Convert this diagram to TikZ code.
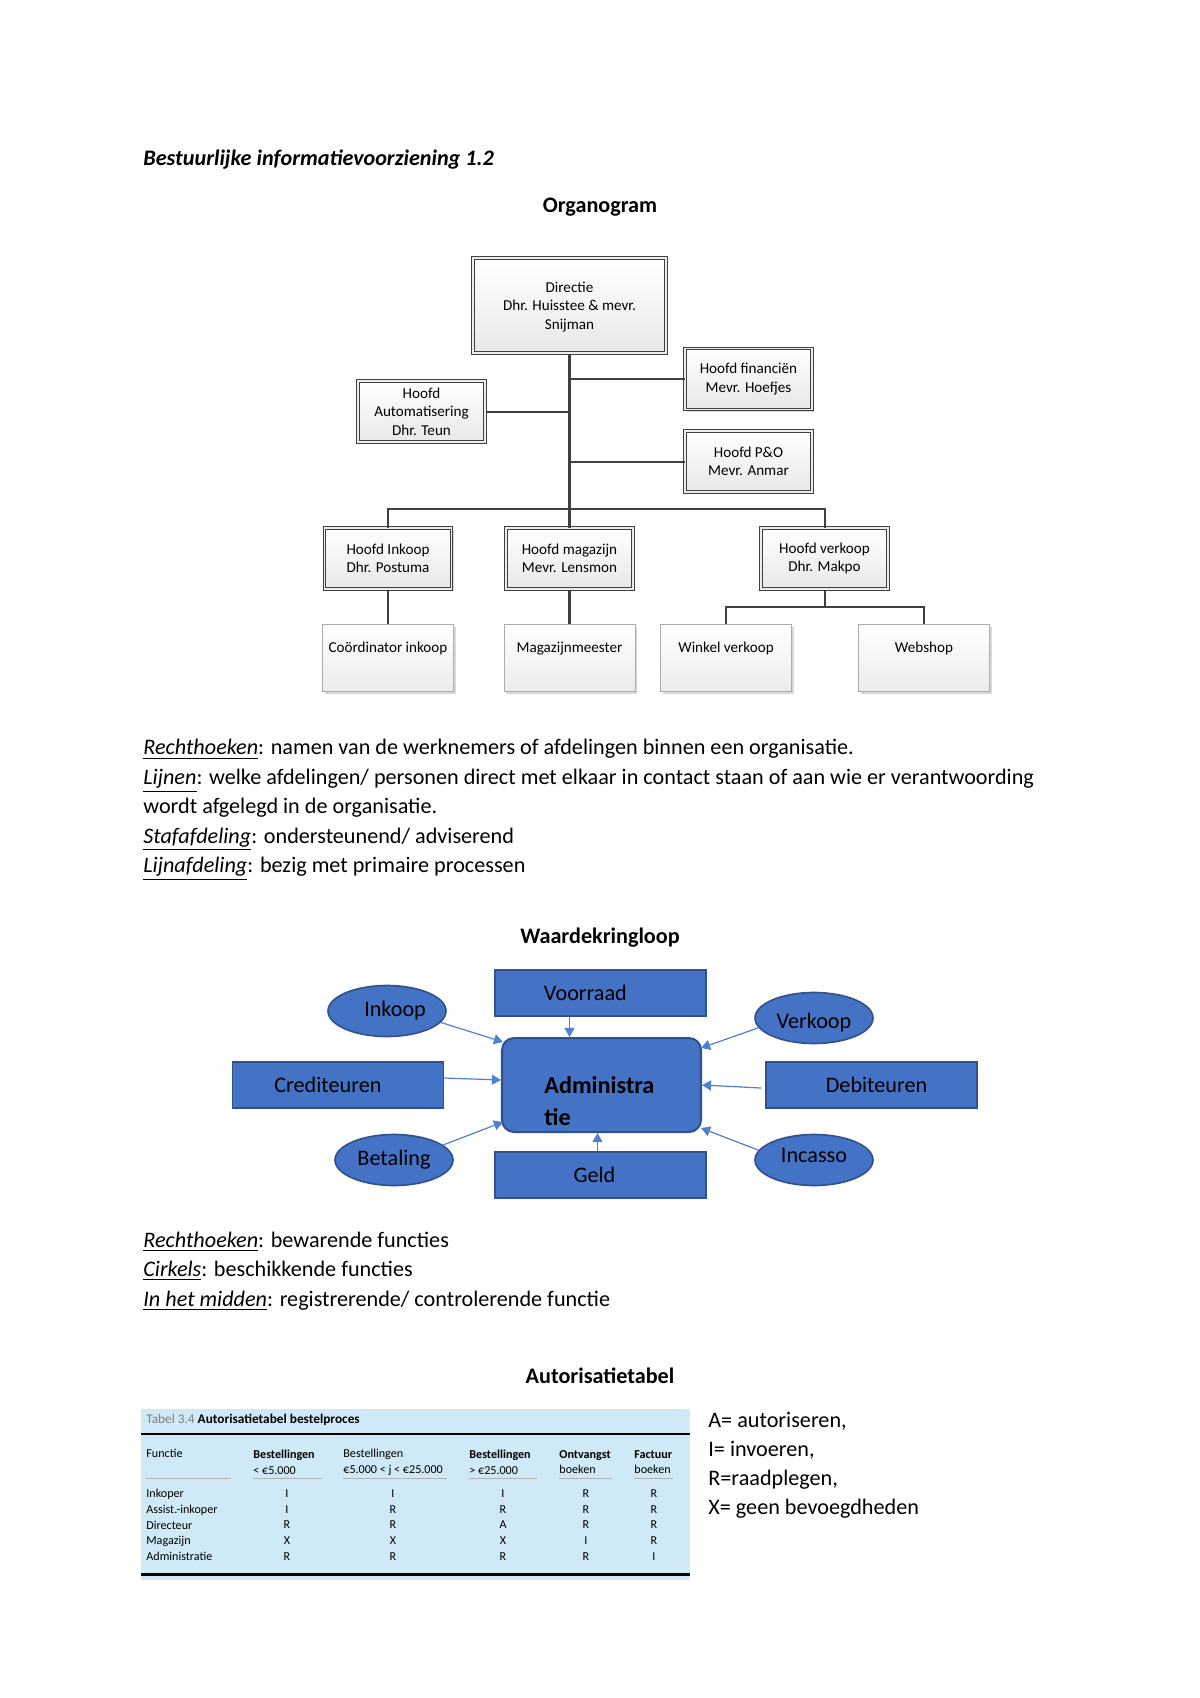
\documentclass[tikz,border=0pt]{standalone}
\usepackage{fontspec}
\setmainfont{Carlito}
\usepackage{tikz}
\usetikzlibrary{arrows.meta,shapes.geometric,shadows,calc}
\newdimen\pix \pix=0.49606pt
\definecolor{kringblauw}{HTML}{4472C4}
\definecolor{kringrand}{HTML}{2F528F}
\definecolor{pijlblauw}{HTML}{4F81D0}
\definecolor{tabelblauw}{HTML}{CFE9F7}
\definecolor{lijngrijs}{HTML}{404040}

\begin{document}
\begin{tikzpicture}[x=1\pix,y=-1\pix,>={Triangle[length=4.5pt,width=5pt]},
	every node/.style={font=\fontsize{11}{14.6}\selectfont,inner sep=0pt},
	kopje/.style={font=\fontsize{11}{14}\selectfont\bfseries},
	hoofd/.style={draw=lijngrijs,double=gray!15,double distance=0.9pt,line width=0.5pt,
		top color=white,bottom color=gray!18,align=center,
		drop shadow={shadow xshift=1.2pt,shadow yshift=-1.2pt,opacity=0.3},
		font=\fontsize{7.5}{9.2}\selectfont},
	kop/.style={hoofd,minimum width=127\pix,minimum height=61\pix},
	afd/.style={draw=gray!65,line width=0.5pt,top color=white,bottom color=gray!15,
		drop shadow={shadow xshift=1.2pt,shadow yshift=-1.2pt,opacity=0.3},
		minimum width=131\pix,minimum height=67\pix,text height=5.5pt,text depth=11pt,
		font=\fontsize{7.5}{9.2}\selectfont},
	tak/.style={draw=lijngrijs,line width=1pt},
	bewaar/.style={rectangle,draw=kringrand,line width=0.8pt,fill=kringblauw,
		minimum width=211\pix,minimum height=46\pix},
	beschik/.style={ellipse,draw=kringrand,line width=0.8pt,fill=kringblauw,
		minimum width=118\pix,minimum height=51\pix},
	midden/.style={rectangle,rounded corners=6pt,draw=kringrand,line width=1pt,fill=kringblauw,
		minimum width=199\pix,minimum height=94\pix},
	pijl/.style={->,draw=pijlblauw,line width=0.6pt},
	tabel/.style={font=\fontsize{6}{7.8}\selectfont},
	]
	\fill[white] (0,0) rectangle (1200,1698);
	%% koppen
	\node (titel) at (143,160) [anchor=west,font=\fontsize{11}{14}\selectfont\bfseries\itshape] {Bestuurlijke informatievoorziening 1.2};
	\node (organogram) at (600,207) [kopje] {Organogram};
	%% organogram
	\node (dir) at (569.5,305.5) [hoofd,minimum width=193\pix,minimum height=95\pix,text depth=-2pt] {Directie\\Dhr. Huisstee \& mevr.\\Snijman};
	\node (fin) at (748.5,379) [kop] {Hoofd financiën\\Mevr. Hoefjes};
	\node (aut) at (421.5,411.5) [kop] {Hoofd\\Automatisering\\Dhr. Teun};
	\node (po) at (748.5,461.5) [kop] {Hoofd P\&O\\Mevr. Anmar};
	\node (ink) at (388,558.5) [kop] {Hoofd Inkoop\\Dhr. Postuma};
	\node (mag) at (569.5,558.5) [kop] {Hoofd magazijn\\Mevr. Lensmon};
	\node (verk) at (824.5,558.5) [kop] {Hoofd verkoop\\Dhr. Makpo};
	\node (coord) at (388,658) [afd] {Coördinator inkoop};
	\node (mmeester) at (569.5,658) [afd] {Magazijnmeester};
	\node (winkel) at (726,658) [afd] {Winkel verkoop};
	\node (webshop) at (924,658) [afd] {Webshop};
	\coordinate (bus) at (569.5,509);
	\coordinate (vbus) at (824.5,607);

	\draw [tak] (dir) -- (mag);
	\draw [tak] (fin.west) -- (fin.west -| dir.south);
	\draw [tak] (aut.east) -- (aut.east -| dir.south);
	\draw [tak] (po.west) -- (po.west -| dir.south);
	\draw [tak] (ink.north) |- (bus) -| (verk.north);
	\draw [tak] (ink) -- (coord);
	\draw [tak] (mag) -- (mmeester);
	\draw [tak] (verk) -- (vbus);
	\draw [tak] (winkel.north) |- (vbus) -| (webshop.north);

	\node (uitleg1) at (143,810) [anchor=west,align=left] {\underline{\textit{Rechthoeken}}: namen van de werknemers of afdelingen binnen een organisatie.\\
		\underline{\textit{Lijnen}}: welke afdelingen/ personen direct met elkaar in contact staan of aan wie er verantwoording\\
		wordt afgelegd in de organisatie.\\
		\underline{\textit{Stafafdeling}}: ondersteunend/ adviserend\\
		\underline{\textit{Lijnafdeling}}: bezig met primaire processen};
	%% waardekringloop
	\node (waardekringloop) at (600,938) [kopje] {Waardekringloop};
	\node (voorraad) at (600.5,993) [bewaar] {Voorraad\hspace*{15pt}};
	\node (crediteuren) at (338,1085) [bewaar] {Crediteuren\hspace*{10pt}};
	\node (debiteuren) at (871.5,1085) [bewaar] {\hspace*{5pt}Debiteuren};
	\node (geld) at (600.5,1175) [bewaar] {Geld\hspace*{6pt}};
	\node (inkoop) at (387,1011) [beschik] {\hspace*{8pt}Inkoop};
	\node (verkoop) at (814,1018) [beschik,text height=13pt,text depth=2.3pt] {Verkoop};
	\node (betaling) at (394,1160) [beschik] {Betaling};
	\node (incasso) at (814,1160) [beschik,text height=7.2pt,text depth=4.4pt] {Incasso};
	\node (admin) at (601.5,1085) [midden] {};
	\node (admtekst) at (544,1101) [anchor=west,align=left,font=\fontsize{12}{15.9}\selectfont\bfseries] {Administra\\tie};

	\draw [pijl] (inkoop.-12) -- ([shift={(2,5)}]admin.north west);
	\draw [pijl] ($(voorraad.south)+(-31,0)$) -- ($(admin.north)+(-32,0)$);
	\draw [pijl] (verkoop.190) -- ([shift={(-1,11)}]admin.north east);
	\draw [pijl] ([shift={(0,-7)}]crediteuren.east) -- ([shift={(0,-5)}]admin.west);
	\draw [pijl] ([shift={(-4,3)}]debiteuren.west) -- (admin.east);
	\draw [pijl] (betaling.17) -- ([shift={(2,-11)}]admin.south west);
	\draw [pijl] (incasso.170) -- ([shift={(-1,-5)}]admin.south east);
	\draw [pijl] ($(geld.north)+(-3,0)$) -- ($(admin.south)+(-4,0)$);

	\node (uitleg2) at (143,1271) [anchor=west,align=left] {\underline{\textit{Rechthoeken}}: bewarende functies\\
		\underline{\textit{Cirkels}}: beschikkende functies\\
		\underline{\textit{In het midden}}: registrerende/ controlerende functie};
	%% autorisatietabel
	\node (autorisatie) at (600,1376) [kopje] {Autorisatietabel};
	\node (tabel) at (141,1409) [anchor=north west,fill=tabelblauw,minimum width=549\pix,minimum height=171\pix] {};
	\node (tabtitel) at (146,1420) [anchor=west,font=\fontsize{6.6}{8}\selectfont,text=gray] {Tabel 3.4 \textcolor{black}{\bfseries Autorisatietabel bestelproces}};
	\draw [line width=1pt] (141,1434) -- (690,1434);
	\draw [line width=1.5pt] (141,1574) -- (690,1574);
	\foreach \a/\b in {146/231,253/322,343/447,469/537,559/612,634/673}
		\draw [gray!60,line width=0.4pt] (\a,1478) -- (\b,1478);
	\node (h1) at (146,1453) [tabel,anchor=west] {Functie};
	\node (h2) at (253,1462) [tabel,anchor=west,align=left] {\bfseries Bestellingen\\< €5.000};
	\node (h3) at (343,1462) [tabel,anchor=west,align=left] {Bestellingen\\€5.000 < j < €25.000};
	\node (h4) at (469,1462) [tabel,anchor=west,align=left] {\bfseries Bestellingen\\> €25.000};
	\node (h5) at (559,1462) [tabel,anchor=west,align=left] {\bfseries Ontvangst\\boeken};
	\node (h6) at (634,1462) [tabel,anchor=west,align=left] {\bfseries Factuur\\boeken};
	\node (k1) at (146,1525) [tabel,anchor=west,align=left] {Inkoper\\Assist.-inkoper\\Directeur\\Magazijn\\Administratie};
	\node (k2) at (287,1525) [tabel,align=center] {I\\I\\R\\X\\R};
	\node (k3) at (393,1525) [tabel,align=center] {I\\R\\R\\X\\R};
	\node (k4) at (503,1525) [tabel,align=center] {I\\R\\A\\X\\R};
	\node (k5) at (586,1525) [tabel,align=center] {R\\R\\R\\I\\R};
	\node (k6) at (654,1525) [tabel,align=center] {R\\R\\R\\R\\I};
	\node (legenda) at (708,1465) [anchor=west,align=left,font=\fontsize{11}{14.4}\selectfont] {A= autoriseren,\\I= invoeren,\\R=raadplegen,\\X= geen bevoegdheden};
	%
\end{tikzpicture}
\end{document}
